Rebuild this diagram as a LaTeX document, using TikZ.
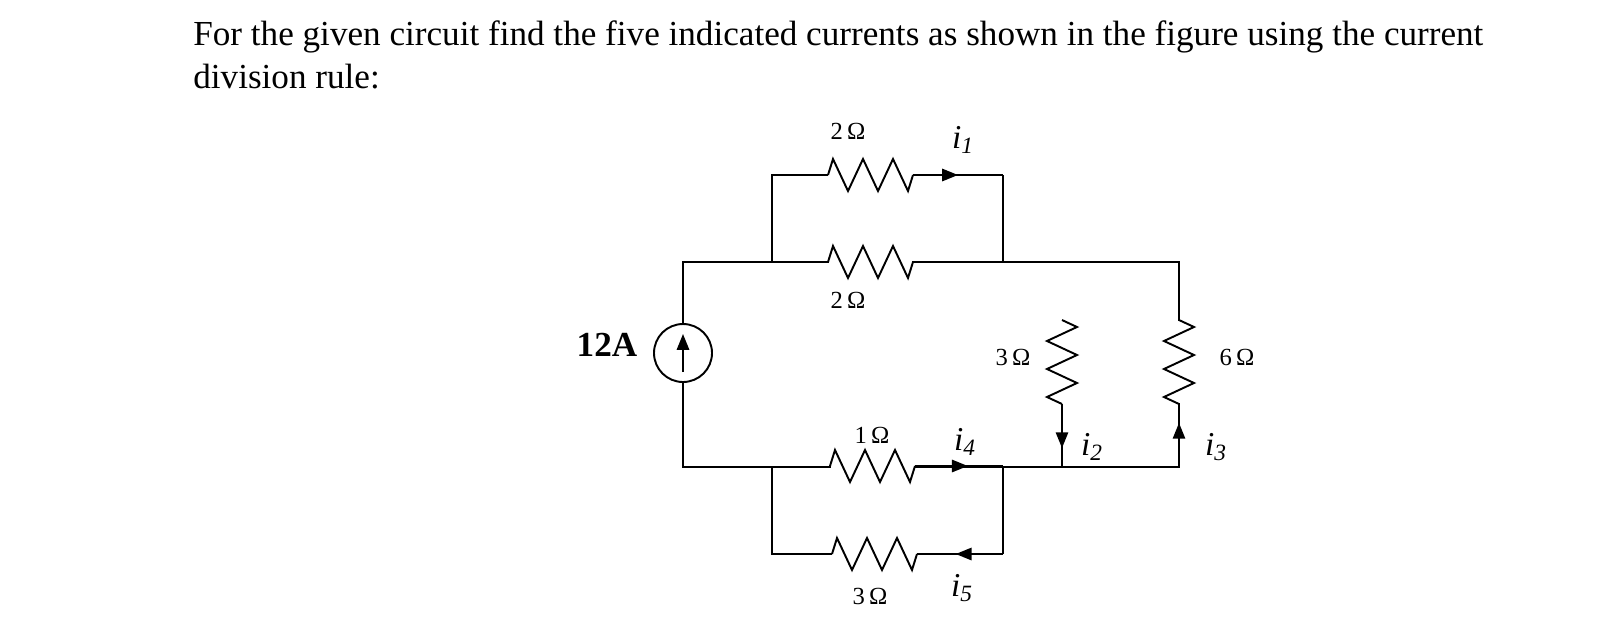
\documentclass[tikz,border=0pt]{standalone}
\usepackage{fontspec}
\setmainfont{Liberation Serif}
\usetikzlibrary{arrows.meta,decorations.markings}
\begin{document}
\begin{tikzpicture}[x=0.02cm,y=-0.02cm,
  wire/.style={line width=1.1pt},
  lbl/.style={font=\fontsize{14}{14}\selectfont},
  cur/.style={font=\fontsize{19}{19}\selectfont\itshape},
  arr/.style={decoration={markings,mark=at position #1 with {\arrow{Triangle[length=9pt,width=7pt]}}},postaction={decorate}},
  hres/.pic={\draw[wire] (0,0)--(5,-16)--(20,16)--(35,-16)--(50,16)--(65,-16)--(80,16)--(85,0);},
  vres/.pic={\draw[wire] (0,0)--(15,7)--(-15,21)--(15,35)--(-15,49)--(15,63)--(-15,77)--(0,84);}]
\useasboundingbox (0,0) rectangle (1600,623);
\node[anchor=base west,font=\fontsize{20}{20}\selectfont,inner sep=0] (t1) at (193,45) {For the given circuit find the five indicated currents as shown in the figure using the current};
\node[anchor=base west,font=\fontsize{20}{20}\selectfont,inner sep=0] (t2) at (193,88) {division rule:};
% coordinates
\coordinate (TL) at (683,262); \coordinate (BL) at (683,467);
\coordinate (TR) at (1179,262); \coordinate (BR) at (1179,467);
\coordinate (ua) at (772,175); \coordinate (ub) at (1003,175);
\coordinate (uc) at (772,262); \coordinate (ud) at (1003,262);
\coordinate (la) at (772,466); \coordinate (lb) at (1003,466);
\coordinate (lc) at (772,554); \coordinate (ld) at (1003,554);
\coordinate (m3t) at (1062,262); \coordinate (m3b) at (1062,467);
% source
\node[draw,circle,line width=1.1pt,minimum size=58*0.02cm,inner sep=0] (src) at (683,353) {};
\draw[line width=1.1pt,-{Triangle[length=9pt,width=7pt]}] (683,372) -- (683,334);
\node[font=\fontsize{20}{20}\selectfont\bfseries] (l12) at (607,345) {12A};
\draw[wire] (src.north) -- (TL) -- (TR) -- (BR) -- (BL) -- (src.south);
% upper loop
\draw[wire] (uc) -- (ua) -- (828,175); \draw[wire,arr=0.5] (913,175) -- (ub);
\draw[wire] (ub) -- (ud);
\pic at (828,175) {hres};
\draw[draw=white,line width=3pt] (829,262) -- (912,262);
\pic at (828,262) {hres};
\node[lbl] (r1) at (848,131) {2\,Ω};
\node[lbl] (r2) at (848,300) {2\,Ω};
\node[cur] (i1) at (963,140) {i\textsubscript{1}};
% lower loop
\draw[draw=white,line width=3pt] (831,466) -- (914,466);
\pic at (830,466) {hres};
\draw[wire,arr=0.6] (915,466) -- (lb);
\draw[wire] (la) -- (lc) -- (832,554);
\draw[wire,arr=0.55] (ld) -- (917,554);
\draw[wire] (lb) -- (ld);
\pic at (832,554) {hres};
\node[lbl] (r3) at (872,435) {1\,Ω};
\node[lbl] (r4) at (870,596) {3\,Ω};
\node[cur] (i4) at (965,442) {i\textsubscript{4}};
\node[cur] (i5) at (962,588) {i\textsubscript{5}};
% vertical resistors
\draw[draw=white,line width=3pt] (1062,321) -- (1062,403);
\draw[draw=white,line width=3pt] (1179,321) -- (1179,403);
\pic at (1062,320) {vres};
\pic at (1179,320) {vres};
\draw[wire,arr=0.7] (1062,404) -- (m3b);
\draw[wire,arr=0.7] (BR) -- (1179,404);
\node[lbl] (r5) at (1013,357) {3\,Ω};
\node[lbl] (r6) at (1237,357) {6\,Ω};
\node[cur] (i2) at (1092,447) {i\textsubscript{2}};
\node[cur] (i3) at (1216,447) {i\textsubscript{3}};
\end{tikzpicture}
\end{document}
